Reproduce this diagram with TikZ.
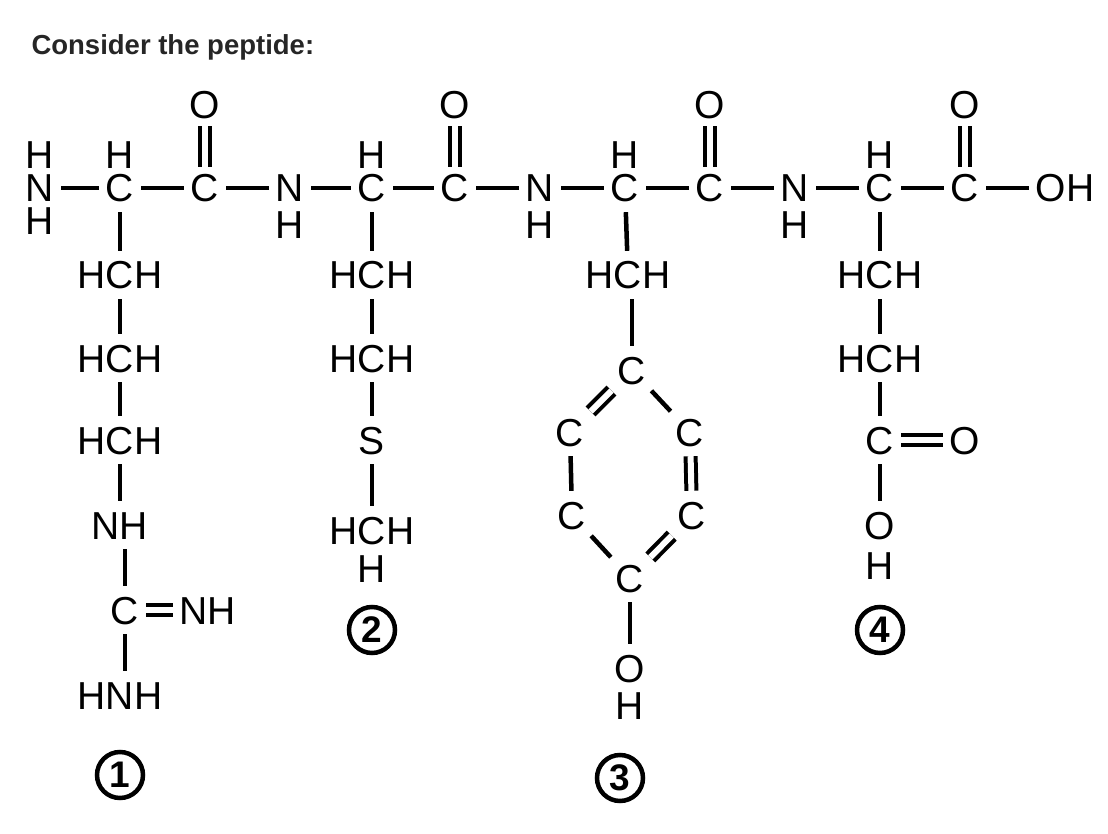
\documentclass[tikz,border=0pt]{standalone}
\usepackage{fontspec}
\setmainfont{Liberation Sans}
\begin{document}
\begin{tikzpicture}[x=1pt,y=-1pt,
  atm/.style={inner sep=0pt,text height=28pt,text depth=0pt,font=\fontsize{39}{40}\selectfont},
  bd/.style={line width=4.5pt,shorten >=7pt,shorten <=7pt},
  bv/.style={line width=4.5pt,shorten >=10pt,shorten <=10pt},
  dbl/.style={line width=4pt,double,double distance=6pt,shorten >=7pt,shorten <=7pt},
  num/.style={circle,draw,line width=4.5pt,minimum size=46pt,inner sep=0pt,font=\fontsize{37}{37}\selectfont\bfseries}]
\useasboundingbox (0,0) rectangle (1108,834);
\node[anchor=west,font=\fontsize{27.5}{30}\selectfont\bfseries,text=black!85] (title) at (28,47) {Consider the peptide:};
% main chain
\foreach \n/\t/\x in {n1/N/40,c1/C/120,k1/C/205,n2/N/290,c2/C/372,k2/C/455,n3/N/540,c3/C/625,k3/C/710,n4/N/795,c4/C/880,k4/C/965}
  \node[atm] (\n) at (\x,188) {\t};
\node[atm] (oh) at (1065,188) {OH};
\node[atm] (hn1a) at (40,155) {H};
\node[atm] (hn1b) at (40,221) {H};
\foreach \i/\x in {2/290,3/540,4/795} \node[atm] (hn\i) at (\x,225) {H};
\foreach \i/\x in {1/120,2/372,3/625,4/880} \node[atm] (hc\i) at (\x,155) {H};
\foreach \i/\x in {1/205,2/455,3/710,4/965} \node[atm] (o\i) at (\x,105) {O};
\draw[bd] (n1)--(c1); \draw[bd] (c1)--(k1); \draw[bd] (k1)--(n2); \draw[bd] (n2)--(c2);
\draw[bd] (c2)--(k2); \draw[bd] (k2)--(n3); \draw[bd] (n3)--(c3); \draw[bd] (c3)--(k3);
\draw[bd] (k3)--(n4); \draw[bd] (n4)--(c4); \draw[bd] (c4)--(k4); \draw[bd] (k4)--(oh);
\foreach \i in {1,2,3,4} \draw[dbl] (o\i)--(k\i);
% side chain 1
\node[atm] (a1) at (120,275) {HCH};
\node[atm] (a2) at (120,358) {HCH};
\node[atm] (a3) at (120,440) {HCH};
\node[atm] (a4) at (120,525) {NH};
\node[atm] (a5) at (125,610) {C};
\node[atm] (a6) at (208,610) {NH};
\node[atm] (a7) at (120,695) {HNH};
\draw[bv] (c1)--(c1 |- a1.north); \draw[bv] (a1)--(a2); \draw[bv] (a2)--(a3); \draw[bv] (a3)--(a4);
\draw[bv] (a4.south -| a5)--(a5);
\draw[dbl] (a5)--(a6);
\draw[bv] (a5)--(a5 |- a7.north);
\node[num] (num1) at (120,775) {1};
% side chain 2
\node[atm] (b1) at (372,275) {HCH};
\node[atm] (b2) at (372,358) {HCH};
\node[atm] (b3) at (372,440) {S};
\node[atm] (b4) at (372,530) {HCH};
\node[atm] (b5) at (372,568) {H};
\draw[bv] (c2)--(b1); \draw[bv] (b1)--(b2); \draw[bv] (b2)--(b3); \draw[bv] (b3)--(b4);
\node[num] (num2) at (372,630) {2};
% side chain 3
\node[atm] (r0) at (628,275) {HCH};
\node[atm] (r1) at (632,370) {C};
\node[atm] (r2) at (570,432) {C};
\node[atm] (r3) at (690,432) {C};
\node[atm] (r4) at (572,515) {C};
\node[atm] (r5) at (692,515) {C};
\node[atm] (r6) at (630,578) {C};
\node[atm] (r7) at (630,668) {O};
\node[atm] (r8) at (630,705) {H};
\draw[bv] (c3)--(r0); \draw[bv] (r0.south -| r1)--(r1);
\draw[dbl,shorten >=9pt,shorten <=9pt] (r1)--(r2); \draw[bd,shorten >=9pt,shorten <=9pt] (r1)--(r3); \draw[bv] (r2)--(r4);
\draw[dbl,shorten >=10pt,shorten <=10pt] (r3)--(r5); \draw[bd,shorten >=9pt,shorten <=9pt] (r4)--(r6); \draw[dbl,shorten >=9pt,shorten <=9pt] (r5)--(r6);
\draw[bv] (r6)--(r7);
\node[num] (num3) at (620,778) {3};
% side chain 4
\node[atm] (d1) at (880,275) {HCH};
\node[atm] (d2) at (880,358) {HCH};
\node[atm] (d3) at (880,440) {C};
\node[atm] (d4) at (965,440) {O};
\node[atm] (d5) at (880,525) {O};
\node[atm] (d6) at (880,565) {H};
\draw[bv] (c4)--(d1); \draw[bv] (d1)--(d2); \draw[bv] (d2)--(d3);
\draw[dbl] (d3)--(d4); \draw[bv] (d3)--(d5);
\node[num] (num4) at (880,630) {4};
\end{tikzpicture}
\end{document}
